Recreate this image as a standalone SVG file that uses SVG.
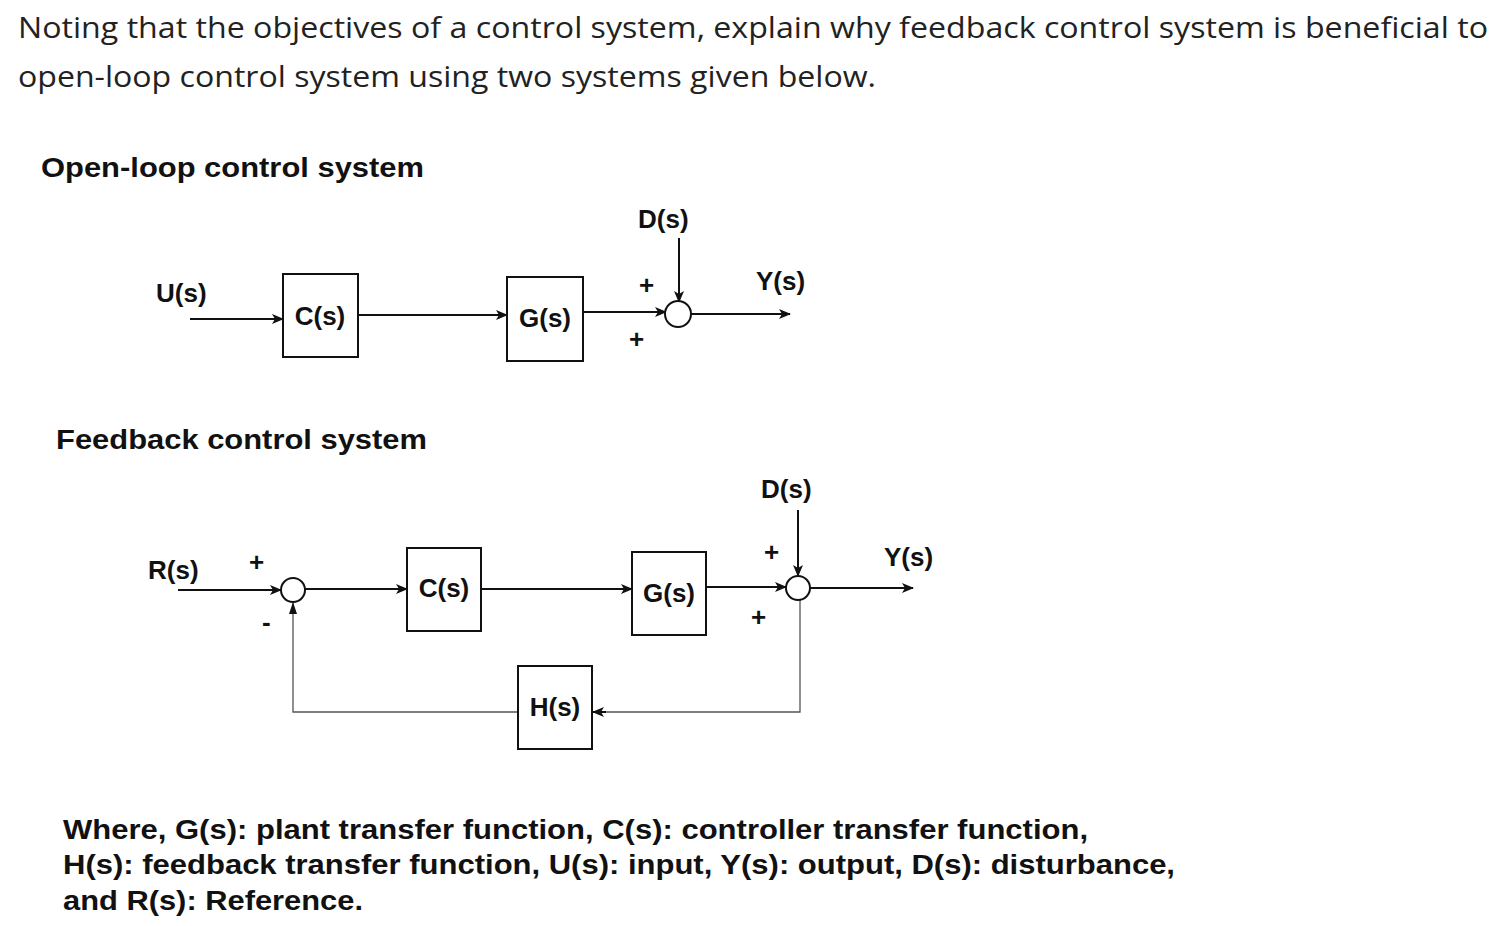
<svg xmlns="http://www.w3.org/2000/svg" width="1507" height="926" viewBox="0 0 1507 926">
<style>
.t{font-family:"Open Sans","Noto Sans",sans-serif;font-size:29px;fill:#222}
.b{font-family:"Liberation Sans",Arial,sans-serif;font-weight:bold;fill:#111}
.h{font-size:28px}
.l{font-size:26px}
.w{font-size:27px}
.box{fill:#fff;stroke:#111;stroke-width:2}
.ln{stroke:#111;stroke-width:2;fill:none}
.fb{stroke:#555;stroke-width:1.3;fill:none}
</style>
<defs>
<marker id="a" markerWidth="12" markerHeight="10" refX="11" refY="5" orient="auto" markerUnits="userSpaceOnUse"><path d="M0,0 L12,5 L0,10 L3,5 Z" fill="#111"/></marker>
</defs>
<rect width="1507" height="926" fill="#fff"/>
<text class="t" x="18" y="38" textLength="1470" lengthAdjust="spacingAndGlyphs">Noting that the objectives of a control system, explain why feedback control system is beneficial to</text>
<text class="t" x="18" y="87" textLength="858" lengthAdjust="spacingAndGlyphs">open-loop control system using two systems given below.</text>
<text class="b h" x="41" y="177" textLength="383" lengthAdjust="spacingAndGlyphs">Open-loop control system</text>
<text class="b h" x="56" y="449" textLength="371" lengthAdjust="spacingAndGlyphs">Feedback control system</text>
<g id="connectors">
<path class="ln" d="M190,319 H283" marker-end="url(#a)"/>
<path class="ln" d="M358,315 H507" marker-end="url(#a)"/>
<path class="ln" d="M583,312 H666" marker-end="url(#a)"/>
<path class="ln" d="M679,238 V302" marker-end="url(#a)"/>
<path class="ln" d="M691,314 H790" marker-end="url(#a)"/>
<path class="ln" d="M178,590 H281" marker-end="url(#a)"/>
<path class="ln" d="M305,589 H407" marker-end="url(#a)"/>
<path class="ln" d="M481,589 H632" marker-end="url(#a)"/>
<path class="ln" d="M706,587 H786" marker-end="url(#a)"/>
<path class="ln" d="M798,510 V576" marker-end="url(#a)"/>
<path class="ln" d="M810,588 H913" marker-end="url(#a)"/>
<path class="fb" d="M800,600 V712 H593"/>
<path class="ln" d="M606,712 H593" marker-end="url(#a)"/>
<path class="fb" d="M518,712 H293 V602"/>
<path d="M293,602 L297,614 L289,614 Z" fill="#111"/>
</g>
<g id="n_C1"><rect class="box" x="283" y="274" width="75" height="83"/><text class="b l" x="320" y="325" text-anchor="middle">C(s)</text></g>
<g id="n_G1"><rect class="box" x="507" y="277" width="76" height="84"/><text class="b l" x="545" y="327" text-anchor="middle">G(s)</text></g>
<g id="n_S1"><circle class="box" cx="678" cy="314" r="13"/></g>
<g id="n_C2"><rect class="box" x="407" y="548" width="74" height="83"/><text class="b l" x="444" y="597" text-anchor="middle">C(s)</text></g>
<g id="n_G2"><rect class="box" x="632" y="552" width="74" height="83"/><text class="b l" x="669" y="602" text-anchor="middle">G(s)</text></g>
<g id="n_H"><rect class="box" x="518" y="666" width="74" height="83"/><text class="b l" x="555" y="716" text-anchor="middle">H(s)</text></g>
<g id="n_S2"><circle class="box" cx="293" cy="590" r="12"/></g>
<g id="n_S3"><circle class="box" cx="798" cy="588" r="12"/></g>
<g id="labels">
<text class="b l" x="156" y="302">U(s)</text>
<text class="b l" x="638" y="228">D(s)</text>
<text class="b l" x="756" y="290">Y(s)</text>
<text class="b l" x="639" y="294">+</text>
<text class="b l" x="629" y="348">+</text>
<text class="b l" x="148" y="579">R(s)</text>
<text class="b l" x="249" y="571">+</text>
<text class="b l" x="262" y="631">-</text>
<text class="b l" x="761" y="498">D(s)</text>
<text class="b l" x="884" y="566">Y(s)</text>
<text class="b l" x="764" y="561">+</text>
<text class="b l" x="751" y="626">+</text>
</g>
<text class="b w" x="63" y="839" textLength="1025" lengthAdjust="spacingAndGlyphs">Where, G(s): plant transfer function, C(s): controller transfer function,</text>
<text class="b w" x="63" y="874" textLength="1112" lengthAdjust="spacingAndGlyphs">H(s): feedback transfer function, U(s): input, Y(s): output, D(s): disturbance,</text>
<text class="b w" x="63" y="910" textLength="300" lengthAdjust="spacingAndGlyphs">and R(s): Reference.</text>
</svg>
